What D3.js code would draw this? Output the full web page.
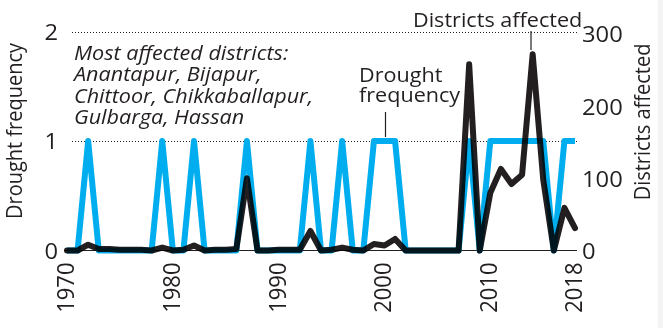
<!DOCTYPE html>
<html>
<head>
<meta charset="utf-8">
<script src="https://cdn.jsdelivr.net/npm/d3@7/dist/d3.min.js"></script>
<style>
  html, body { margin: 0; padding: 0; background: #fff; }
  svg { display: block; }
  text { font-family: "Open Sans", "Noto Sans", sans-serif; fill: #231f20; }
</style>
</head>
<body>
<svg id="chart" width="663" height="328"></svg>
<script>
// ---------- DATA ----------
const years = [1970,1971,1972,1973,1974,1975,1976,1977,1978,1979,
               1980,1981,1982,1983,1984,1985,1986,1987,1988,1989,
               1990,1991,1992,1993,1994,1995,1996,1997,1998,1999,
               2000,2001,2002,2003,2004,2005,2006,2007,2008,2009,
               2010,2011,2012,2013,2014,2015,2016,2017,2018];
const droughtFrequency = [0,0,1,0,0,0,0,0,0,1,
                          0,0,1,0,0,0,0,1,0,0,
                          0,0,0,1,0,0,1,0,0,1,
                          1,1,0,0,0,0,0,0,1,0,
                          1,1,1,1,1,1,0,1,1];
const districtsAffected = [0,0,8,2,2,1,1,1,0,4,
                           0,1,7,0,1,1,2,100,0,0,
                           1,1,1,27,0,1,4,1,0,9,
                           7,16,0,0,0,0,0,0,258,0,
                           80,113,92,105,272,98,0,59,31];
const xTicks = [1970,1980,1990,2000,2010,2018];
const leftTicks = [0,1,2];
const rightTicks = [0,100,200,300];
const leftTitle = "Drought frequency";
const rightTitle = "Districts affected";
const noteLines = ["Most affected districts:", "Anantapur, Bijapur,", "Chittoor, Chikkaballapur,", "Gulbarga, Hassan"];
const freqLabel = ["Drought", "frequency"];
const distLabel = "Districts affected";

// ---------- LAYOUT ----------
const W = 663, H = 328;
const SX = 1.08; // horizontal glyph stretch seen in the reference
const BLUE = "#00aeef", INK = "#231f20";
const svg = d3.select("#chart");
svg.append("rect").attr("x", 0).attr("y", 0).attr("width", W).attr("height", H).attr("fill", "#fff");
svg.append("rect").attr("x", 658).attr("y", 0).attr("width", 5).attr("height", H).attr("fill", "#f3f3f3");

const x = d3.scaleLinear().domain([1970, 2018]).range([67, 575]);
const yL = d3.scaleLinear().domain([0, 2]).range([250.5, 31.5]);
const yR = d3.scaleLinear().domain([0, 300]).range([250.5, 34]);

// grid lines (dotted) at 1 and 2
svg.append("g").selectAll("line").data([1, 2]).join("line")
  .attr("x1", 72).attr("x2", 578)
  .attr("y1", d => Math.round(yL(d)) + 0.5).attr("y2", d => Math.round(yL(d)) + 0.5)
  .attr("stroke", INK).attr("stroke-width", 1).attr("stroke-dasharray", "1,2");

// baseline
svg.append("line").attr("x1", 64).attr("x2", 577)
  .attr("y1", yL(0)).attr("y2", yL(0))
  .attr("stroke", INK).attr("stroke-width", 1.2);

// left axis
const gL = svg.append("g").attr("transform", "translate(58,0)")
  .call(d3.axisLeft(yL).tickValues(leftTicks).tickSize(0).tickPadding(0).tickFormat(d3.format("d")));
gL.select(".domain").remove();
gL.selectAll("text").attr("font-size", 22).attr("fill", INK).attr("font-family", "Open Sans")
  .attr("dy", "0.36em").attr("transform", `scale(${SX},1)`);

// right axis
const gR = svg.append("g").attr("transform", "translate(582,0)")
  .call(d3.axisRight(yR).tickValues(rightTicks).tickSize(0).tickPadding(0).tickFormat(d3.format("d")));
gR.select(".domain").remove();
gR.selectAll("text").attr("font-size", 22).attr("fill", INK).attr("font-family", "Open Sans")
  .attr("dy", "0.36em").attr("transform", `scale(${SX},1)`);

// bottom axis
const gB = svg.append("g").attr("transform", `translate(0,${yL(0)})`)
  .call(d3.axisBottom(x).tickValues(xTicks).tickSize(0).tickFormat(d3.format("d")));
gB.select(".domain").remove();
gB.selectAll("text")
  .attr("font-size", 22).attr("fill", INK).attr("font-family", "Open Sans")
  .attr("text-anchor", "end")
  .attr("transform", `scale(${SX},1) rotate(-90)`)
  .attr("x", -12).attr("y", -2).attr("dy", "0.36em");

// lines
const rows = years.map((yr, i) => ({ yr, f: droughtFrequency[i], d: districtsAffected[i] }));
svg.append("path").datum(rows)
  .attr("fill", "none").attr("stroke", BLUE).attr("stroke-width", 6)
  .attr("stroke-linejoin", "round").attr("stroke-linecap", "butt")
  .attr("d", d3.line().x(d => x(d.yr)).y(d => yL(d.f)));
svg.append("path").datum(rows)
  .attr("fill", "none").attr("stroke", INK).attr("stroke-width", 6)
  .attr("stroke-linejoin", "round").attr("stroke-linecap", "round")
  .style("mix-blend-mode", "multiply")
  .attr("d", d3.line().x(d => x(d.yr)).y(d => yR(d.d)));

// helper for horizontally stretched text
function stretchedText(sel, px, py, extra) {
  return sel.attr("x", 0).attr("y", 0)
    .attr("transform", `translate(${px},${py}) scale(${SX},1)` + (extra || ""));
}

// axis titles
stretchedText(svg.append("text"), 21.5, 131, " rotate(-90)")
  .attr("text-anchor", "middle").attr("font-size", 20).text(leftTitle);
stretchedText(svg.append("text"), 650, 122, " rotate(-90)")
  .attr("text-anchor", "middle").attr("font-size", 20).text(rightTitle);

// note
svg.append("g").selectAll("text").data(noteLines).join("text")
  .attr("transform", (d, i) => `translate(74,${60 + i * 21.3}) scale(${SX},1)`)
  .attr("font-size", 20).attr("font-style", "italic").text(d => d);

// drought frequency label + leader
svg.append("g").selectAll("text").data(freqLabel).join("text")
  .attr("transform", (d, i) => `translate(359,${82 + i * 19.5}) scale(${SX},1)`)
  .attr("font-size", 20).text(d => d);
svg.append("line").attr("x1", 385.5).attr("x2", 385.5).attr("y1", 112).attr("y2", 137)
  .attr("stroke", INK).attr("stroke-width", 1.2);

// districts affected label + leader
stretchedText(svg.append("text"), 413, 27).attr("font-size", 20).text(distLabel);
svg.append("line").attr("x1", 531).attr("x2", 531).attr("y1", 31).attr("y2", 50)
  .attr("stroke", INK).attr("stroke-width", 1.2);
</script>
</body>
</html>
